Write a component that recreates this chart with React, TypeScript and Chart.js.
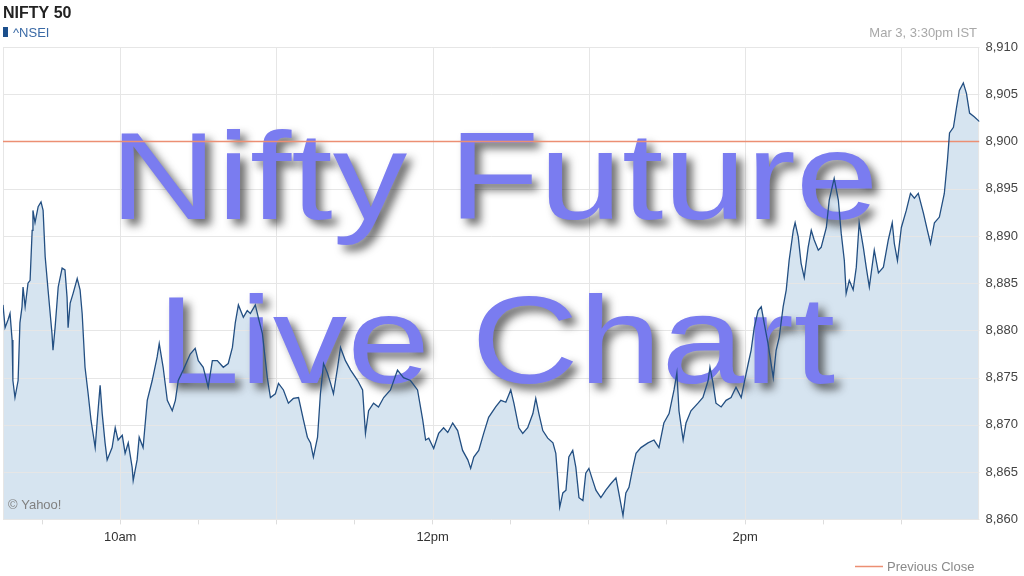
import React, { useEffect, useRef } from "react";
import { Chart, registerables } from "chart.js";

Chart.register(...registerables);

// minutes after 9:15 IST
const minutes = [
  0, 0.8, 1.9, 2.7, 3.5, 3.8, 4.6, 5.8, 6.5, 7.3,
  7.7, 8.5, 9.6, 10.4, 11.2, 11.5, 12.3, 13.5, 14.6, 15.4,
  16.2, 17.3, 18.8, 19.2, 20.0, 21.2, 22.7, 23.8, 24.6, 25.0,
  25.8, 26.9, 28.5, 29.6, 30.4, 31.5, 32.7, 33.8, 35.4, 36.2,
  37.3, 38.1, 39.2, 40.0, 41.9, 43.1, 44.2, 45.8, 46.9, 48.1,
  49.6, 50.0, 51.5, 52.3, 53.8, 55.4, 57.3, 59.2, 60.0, 61.5,
  63.1, 65.0, 66.2, 67.3, 69.2, 71.9, 73.8, 75.0, 76.9, 78.8,
  80.4, 82.3, 84.6, 86.5, 88.1, 89.2, 90.4, 92.3, 93.8, 95.0,
  96.9, 98.1, 99.6, 101.5, 102.7, 104.6, 105.8, 107.7, 109.6, 111.5,
  113.5, 115.4, 116.9, 118.1, 119.2, 120.8, 121.9, 123.1, 124.6, 125.8,
  126.9, 128.5, 129.6, 131.5, 133.5, 136.2, 138.1, 139.2, 140.4, 142.3,
  144.2, 146.2, 148.8, 151.5, 153.8, 156.5, 159.2, 161.2, 162.3, 163.5,
  165.4, 167.3, 169.2, 170.8, 172.7, 174.6, 176.5, 178.5, 179.6, 180.8,
  182.7, 184.6, 186.5, 189.2, 191.2, 193.1, 195.0, 196.2, 198.1, 199.6,
  201.5, 203.5, 204.6, 205.8, 207.3, 209.2, 211.2, 212.3, 213.1, 213.8,
  215.0, 216.2, 217.3, 218.8, 220.0, 221.2, 222.7, 223.8, 225.0, 226.5,
  227.7, 229.6, 231.5, 233.5, 235.4, 236.5, 238.1, 239.2, 240.4, 241.9,
  243.1, 245.0, 247.7, 250.0, 251.9, 253.8, 255.8, 257.7, 258.8, 259.6,
  261.2, 262.3, 264.2, 266.9, 268.8, 270.8, 271.5, 272.7, 273.8, 275.8,
  277.7, 279.6, 281.5, 283.5, 284.6, 286.2, 287.3, 288.5, 290.0, 291.2,
  292.3, 293.8, 295.8, 296.9, 298.1, 299.6, 300.8, 301.9, 303.5, 304.2,
  305.4, 306.5, 307.7, 309.2, 310.4, 311.5, 313.1, 314.2, 316.2, 317.3,
  319.2, 320.8, 321.9, 323.1, 323.8, 325.0, 326.5, 327.7, 328.8, 330.4,
  331.5, 332.7, 334.6, 336.2, 338.1, 340.0, 341.5, 342.3, 343.5, 345.0,
  346.9, 348.5, 350.0, 351.5, 353.5, 355.0, 356.2, 357.7, 359.6, 361.5,
  362.7, 363.5, 365.0, 366.2, 367.3, 368.8, 370.0, 371.2, 373.1, 375.0,
];

const prices = [
  8882.7, 8880.3, 8881.1, 8881.8, 8879.0, 8874.7, 8872.9, 8874.7, 8880.8, 8882.5,
  8884.6, 8882.5, 8885.0, 8885.3, 8890.6, 8892.7, 8891.4, 8893.1, 8893.6, 8892.7,
  8887.8, 8884.3, 8879.7, 8877.9, 8880.3, 8884.6, 8886.6, 8886.4, 8883.5, 8880.3,
  8882.9, 8883.9, 8885.5, 8884.3, 8881.8, 8876.1, 8873.3, 8870.5, 8867.6, 8870.5,
  8874.2, 8871.2, 8868.1, 8866.3, 8867.6, 8869.7, 8868.4, 8868.9, 8867.0, 8868.1,
  8865.5, 8864.1, 8866.3, 8868.7, 8867.6, 8872.6, 8874.7, 8877.2, 8878.6, 8876.1,
  8872.6, 8871.5, 8872.6, 8874.7, 8875.8, 8877.5, 8878.1, 8876.8, 8876.1, 8874.0,
  8876.8, 8876.8, 8876.1, 8876.5, 8878.2, 8880.8, 8882.7, 8881.4, 8882.1, 8881.8,
  8882.7, 8881.3, 8879.7, 8875.0, 8872.9, 8873.3, 8874.4, 8873.7, 8872.3, 8872.8,
  8872.9, 8870.5, 8868.7, 8868.1, 8866.6, 8868.7, 8873.3, 8876.5, 8875.5, 8874.4,
  8873.3, 8876.1, 8878.2, 8876.8, 8875.8, 8874.7, 8873.7, 8869.1, 8871.5, 8872.3,
  8871.9, 8872.9, 8873.7, 8875.8, 8875.0, 8874.7, 8873.7, 8870.5, 8868.4, 8868.6,
  8867.5, 8869.1, 8869.7, 8869.2, 8870.2, 8869.4, 8867.3, 8866.3, 8865.4, 8866.6,
  8867.3, 8869.1, 8870.8, 8871.9, 8872.6, 8872.4, 8873.7, 8872.3, 8869.7, 8869.1,
  8869.7, 8871.2, 8872.8, 8871.2, 8869.4, 8868.6, 8868.1, 8867.0, 8864.1, 8861.3,
  8862.8, 8863.1, 8866.6, 8867.3, 8865.5, 8862.3, 8862.0, 8864.9, 8865.4, 8864.1,
  8863.1, 8862.3, 8863.1, 8863.8, 8864.4, 8862.8, 8860.4, 8862.8, 8863.4, 8865.5,
  8867.0, 8867.6, 8868.1, 8868.4, 8867.6, 8870.2, 8871.2, 8873.7, 8875.5, 8871.5,
  8868.4, 8870.2, 8871.5, 8872.3, 8872.9, 8874.7, 8876.1, 8874.4, 8872.3, 8871.9,
  8872.6, 8872.9, 8874.0, 8872.9, 8874.4, 8876.5, 8877.9, 8880.3, 8882.1, 8882.5,
  8880.8, 8878.6, 8875.0, 8877.9, 8879.3, 8882.5, 8884.3, 8887.4, 8890.6, 8891.4,
  8889.9, 8887.1, 8885.6, 8888.8, 8890.6, 8889.6, 8888.5, 8888.8, 8890.9, 8893.8,
  8896.1, 8893.8, 8890.3, 8887.4, 8883.9, 8885.3, 8884.3, 8886.7, 8891.4, 8888.8,
  8886.7, 8884.6, 8888.5, 8886.1, 8886.7, 8889.6, 8891.4, 8889.2, 8887.4, 8890.9,
  8892.7, 8894.5, 8894.0, 8894.5, 8892.4, 8890.6, 8889.2, 8891.4, 8892.0, 8894.5,
  8898.0, 8900.9, 8901.5, 8903.6, 8905.4, 8906.2, 8905.1, 8903.0, 8902.6, 8902.1,
];

const previousClose = 8900;
const sessionStart = 0;
const sessionEnd = 375;
const xTickMinutes = [15, 45, 75, 105, 135, 165, 195, 225, 255, 285, 315, 345];
const xTickLabels = ["", "10am", "", "", "", "12pm", "", "", "", "2pm", "", ""];
const hourMinutes = [45, 105, 165, 225, 285, 345];
const yMin = 8860;
const yMax = 8910;
const yStep = 5;

const titleText = "NIFTY 50";
const symbolText = "^NSEI";
const stampText = "Mar 3, 3:30pm IST";
const creditText = "\u00A9 Yahoo!";
const legendText = "Previous Close";
const overlayLines = ["Nifty Future", "Live Chart"];

const FONT = '"Liberation Sans", Arial, sans-serif';
const GRID = "#e6e6e6";
const NONE = "rgba(0,0,0,0)";

const overlayPlugin = {
  id: "overlayPlugin",
  afterDatasetDraw(chart: any, args: any) {
    if (args.index !== 0) return;
    const { ctx, chartArea: a, scales } = chart;
    const x = scales.x;
    const y = scales.y;
    ctx.save();
    // grid drawn on top of the area fill
    ctx.strokeStyle = GRID;
    ctx.lineWidth = 1;
    ctx.beginPath();
    y.ticks.forEach((t: any) => {
      if (t.value === previousClose) return;
      const py = Math.round(y.getPixelForValue(t.value)) + 0.5;
      ctx.moveTo(a.left, py);
      ctx.lineTo(a.right, py);
    });
    hourMinutes.forEach((m) => {
      const px = Math.round(x.getPixelForValue(m)) + 0.5;
      ctx.moveTo(px, a.top);
      ctx.lineTo(px, a.bottom);
    });
    const lx = Math.round(a.left) + 0.5;
    const rx = Math.round(a.right) - 0.5;
    ctx.moveTo(lx, a.top);
    ctx.lineTo(lx, a.bottom);
    ctx.moveTo(rx, a.top);
    ctx.lineTo(rx, a.bottom);
    ctx.stroke();

    // big overlay caption
    ctx.font = `124px ${FONT}`;
    ctx.textAlign = "center";
    ctx.textBaseline = "alphabetic";
    ctx.fillStyle = "#7a7cf0";
    ctx.shadowColor = "rgba(30,30,30,0.65)";
    ctx.shadowBlur = 8;
    ctx.shadowOffsetX = 6;
    ctx.shadowOffsetY = 6;
    const rows = [
      { cx: 494, base: 219 },
      { cx: 496, base: 383 },
    ];
    overlayLines.forEach((txt, i) => {
      ctx.save();
      ctx.translate(rows[i].cx, rows[i].base);
      ctx.scale(1.2, 1);
      ctx.fillText(txt, 0, 0);
      ctx.restore();
    });
    ctx.restore();
  },
  afterDraw(chart: any) {
    const { ctx, chartArea: a } = chart;
    ctx.save();
    ctx.textBaseline = "alphabetic";
    ctx.textAlign = "left";
    ctx.fillStyle = "#222";
    ctx.font = `bold 16px ${FONT}`;
    ctx.fillText(titleText, 3, 18);

    ctx.fillStyle = "#1c4f8c";
    ctx.fillRect(3, 27, 5, 10);
    ctx.fillStyle = "#3a6aa6";
    ctx.font = `13px ${FONT}`;
    ctx.fillText(symbolText, 13, 37);

    ctx.fillStyle = "#a8a8a8";
    ctx.textAlign = "right";
    ctx.fillText(stampText, 977, 37);

    ctx.textAlign = "left";
    ctx.fillStyle = "#808080";
    ctx.fillText(creditText, 8, a.bottom - 10);

    ctx.strokeStyle = "#ec8f73";
    ctx.lineWidth = 1.5;
    ctx.beginPath();
    ctx.moveTo(855, 566.5);
    ctx.lineTo(883, 566.5);
    ctx.stroke();
    ctx.fillStyle = "#8a8a8a";
    ctx.fillText(legendText, 887, 571);
    ctx.restore();
  },
};

export default function App() {
  const ref = useRef<HTMLCanvasElement | null>(null);

  useEffect(() => {
    document.body.style.margin = "0";
    const canvas = ref.current;
    if (!canvas) return;
    const series = minutes.map((m, i) => ({ x: m, y: prices[i] }));
    const closeLine = [
      { x: sessionStart, y: previousClose },
      { x: sessionEnd, y: previousClose },
    ];
    const chart = new Chart(canvas, {
      type: "line",
      data: {
        datasets: [
          {
            data: series,
            borderWidth: 0,
            borderColor: NONE,
            backgroundColor: "#d6e4f0",
            fill: "start",
            pointRadius: 0,
            order: 3,
          },
          {
            data: closeLine,
            borderColor: "#ec8f73",
            borderWidth: 1.6,
            fill: false,
            pointRadius: 0,
            order: 2,
          },
          {
            data: series,
            borderColor: "#234f82",
            borderWidth: 1.3,
            fill: false,
            pointRadius: 0,
            tension: 0,
            order: 1,
          },
        ],
      },
      options: {
        responsive: false,
        animation: false,
        devicePixelRatio: 1,
        layout: { padding: { left: 3, top: 47, right: 0, bottom: 26 } },
        plugins: {
          legend: { display: false },
          tooltip: { enabled: false },
          title: { display: false },
        },
        scales: {
          x: {
            type: "linear",
            min: sessionStart,
            max: sessionEnd,
            afterBuildTicks: (axis: any) => {
              axis.ticks = xTickMinutes.map((v) => ({ value: v }));
            },
            ticks: {
              autoSkip: false,
              maxRotation: 0,
              padding: 5,
              color: "#333",
              font: { family: FONT, size: 13 },
              callback: (v: any) => {
                const i = xTickMinutes.indexOf(Number(v));
                return i >= 0 ? xTickLabels[i] : "";
              },
            },
            grid: {
              color: NONE,
              tickColor: "#dddddd",
              tickLength: 5,
              drawTicks: true,
            },
            border: { display: false },
          },
          y: {
            position: "right",
            min: yMin,
            max: yMax,
            ticks: {
              stepSize: yStep,
              padding: 6,
              color: "#444",
              font: { family: FONT, size: 13 },
              callback: (v: any) => Number(v).toLocaleString("en-US"),
            },
            grid: { color: NONE, drawTicks: false },
            border: { display: false },
          },
        },
      },
      plugins: [overlayPlugin],
    } as any);
    return () => chart.destroy();
  }, []);

  return (
    <div style={{ width: 1024, height: 576, background: "#fff" }}>
      <canvas ref={ref} width={1024} height={576} style={{ display: "block" }} />
    </div>
  );
}
